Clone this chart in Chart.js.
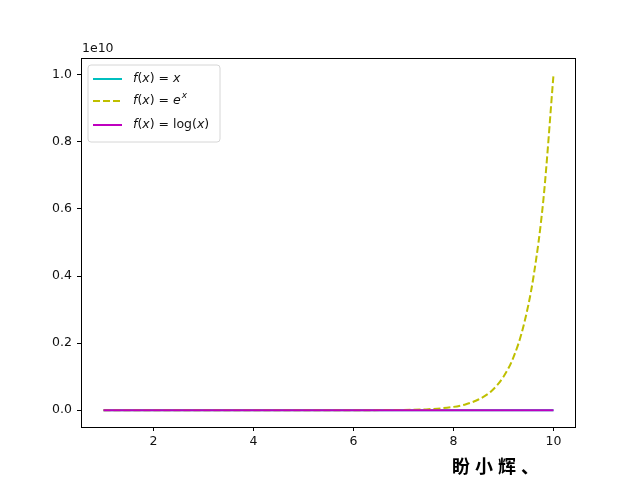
<!DOCTYPE html>
<html>
<head>
<meta charset="utf-8">
<script src="https://cdn.jsdelivr.net/npm/chart.js@4/dist/chart.umd.min.js"></script>
<style>
  html, body { margin: 0; padding: 0; background: #fff; }
  #wrap { width: 640px; height: 490px; }
</style>
</head>
<body>
<div id="wrap"><canvas id="myChart" width="640" height="490"></canvas></div>
<script>
// x positions the curves were read at
const xs = [1, 2, 3, 4, 5, 6, 7, 7.5, 8, 8.25, 8.5, 8.75, 9, 9.2, 9.4, 9.6, 9.8, 10];
// f(x) = x
const linValues = [1, 2, 3, 4, 5, 6, 7, 7.5, 8, 8.25, 8.5, 8.75, 9, 9.2, 9.4, 9.6, 9.8, 10];
// f(x) = e^x in units of 1e10
const expScaled = [0, 0, 0, 0, 0, 0.0001, 0.001, 0.003, 0.01, 0.018, 0.032, 0.056, 0.1, 0.158, 0.251, 0.398, 0.631, 1.0];
// f(x) = log(x)
const logValues = [0, 0.3, 0.48, 0.6, 0.7, 0.78, 0.85, 0.88, 0.9, 0.92, 0.93, 0.94, 0.95, 0.96, 0.97, 0.98, 0.99, 1.0];

const xTicks = [2, 4, 6, 8, 10];
const yTicks = [0, 0.2, 0.4, 0.6, 0.8, 1.0];
const yScale = 1e10;

const cyan = "#00bfbf", yellow = "#bfbf00", magenta = "#bf00bf";
const dash = [7, 3];
const tickFont = { family: "'DejaVu Sans'", size: 12.5 };

function pts(vals, k) {
  return xs.map((x, i) => ({ x: x, y: vals[i] * k }));
}

// frame, offset label, legend and watermark
const extras = {
  id: "extras",
  afterDraw(chart) {
    const ctx = chart.ctx;
    const a = chart.chartArea;
    ctx.save();
    ctx.strokeStyle = "#000";
    ctx.lineWidth = 1;
    ctx.strokeRect(Math.round(a.left) + 0.5, Math.round(a.top) + 0.5,
                   Math.round(a.right - a.left) - 1, Math.round(a.bottom - a.top));

    ctx.fillStyle = "#111";
    ctx.font = "12.5px 'DejaVu Sans'";
    ctx.textBaseline = "alphabetic";
    ctx.textAlign = "left";
    ctx.fillText("1e10", 82, 52);

    // legend box
    const bx = 88, by = 65, bw = 132, bh = 77, r = 3;
    ctx.beginPath();
    ctx.moveTo(bx + r, by);
    ctx.arcTo(bx + bw, by, bx + bw, by + bh, r);
    ctx.arcTo(bx + bw, by + bh, bx, by + bh, r);
    ctx.arcTo(bx, by + bh, bx, by, r);
    ctx.arcTo(bx, by, bx + bw, by, r);
    ctx.closePath();
    ctx.fillStyle = "rgba(255,255,255,0.8)";
    ctx.fill();
    ctx.strokeStyle = "#d6d6d6";
    ctx.lineWidth = 1;
    ctx.stroke();

    const rows = [
      { y: 79, color: cyan, dash: [], parts: [["f", 1], ["(", 0], ["x", 1], [") = ", 0], ["x", 1]] },
      { y: 101, color: yellow, dash: dash, parts: [["f", 1], ["(", 0], ["x", 1], [") = ", 0], ["e", 1], ["x", 2]] },
      { y: 125, color: magenta, dash: [], parts: [["f", 1], ["(", 0], ["x", 1], [") = log(", 0], ["x", 1], [")", 0]] }
    ];
    rows.forEach(row => {
      ctx.beginPath();
      ctx.setLineDash(row.dash);
      ctx.strokeStyle = row.color;
      ctx.lineWidth = 2;
      ctx.moveTo(93, row.y);
      ctx.lineTo(122, row.y);
      ctx.stroke();
      ctx.setLineDash([]);
      let x = 133;
      ctx.fillStyle = "#111";
      ctx.textBaseline = "middle";
      row.parts.forEach(p => {
        if (p[1] === 2) {
          ctx.font = "italic 9px 'DejaVu Sans'";
          ctx.fillText(p[0], x + 1, row.y - 5);
          x += ctx.measureText(p[0]).width + 1;
        } else {
          ctx.font = (p[1] === 1 ? "italic " : "") + "12.5px 'DejaVu Sans'";
          ctx.fillText(p[0], x, row.y);
          x += ctx.measureText(p[0]).width;
        }
      });
    });

    // watermark
    ctx.fillStyle = "#000";
    ctx.font = "bold 18px 'Noto Sans CJK SC'";
    ctx.letterSpacing = "5px";
    ctx.textAlign = "left";
    ctx.textBaseline = "middle";
    ctx.fillText("盼小辉、", 452, 466);
    ctx.restore();
  }
};

new Chart(document.getElementById("myChart").getContext("2d"), {
  type: "line",
  data: {
    datasets: [
      { label: "f(x) = x", data: pts(linValues, 1), borderColor: cyan, borderWidth: 2, pointRadius: 0, order: 3 },
      { label: "f(x) = e^x", data: pts(expScaled, yScale), borderColor: yellow, borderWidth: 2, borderDash: dash, pointRadius: 0, cubicInterpolationMode: "monotone", order: 2 },
      { label: "f(x) = log(x)", data: pts(logValues, 1), borderColor: magenta, borderWidth: 2, pointRadius: 0, order: 1 }
    ]
  },
  options: {
    responsive: false,
    animation: false,
    layout: { padding: { left: 0, top: 58, right: 64, bottom: 0 } },
    plugins: { legend: { display: false }, tooltip: { enabled: false } },
    scales: {
      x: {
        type: "linear",
        min: 0.55,
        max: 10.45,
        afterBuildTicks: s => { s.ticks = xTicks.map(v => ({ value: v })); },
        afterFit: s => { s.height = 63; },
        grid: { display: true, drawOnChartArea: false, tickLength: 4, tickColor: "#000" },
        border: { display: false },
        ticks: { color: "#111", font: tickFont, padding: 3, maxRotation: 0, callback: v => String(v) }
      },
      y: {
        type: "linear",
        min: -0.05 * yScale,
        max: 1.05 * yScale,
        afterBuildTicks: s => { s.ticks = yTicks.map(v => ({ value: v * yScale })); },
        afterFit: s => { s.width = 81; },
        grid: { display: true, drawOnChartArea: false, tickLength: 4, tickColor: "#000" },
        border: { display: false },
        ticks: { color: "#111", font: tickFont, padding: 5, callback: v => (v / yScale).toFixed(1) }
      }
    }
  },
  plugins: [extras]
});
</script>
</body>
</html>
